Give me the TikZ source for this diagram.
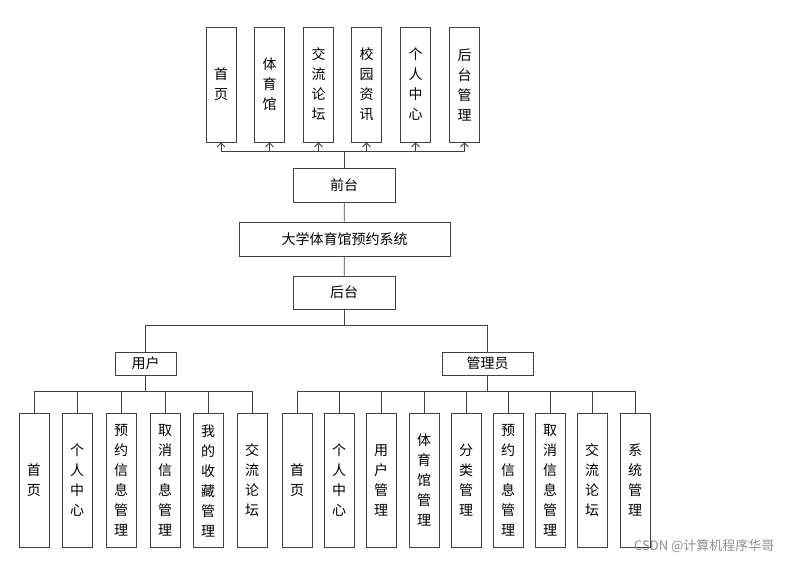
\documentclass[tikz,border=0pt]{standalone}
\usepackage{fontspec}
\setmainfont{Noto Sans CJK SC}
\usetikzlibrary{arrows.meta}
\begin{document}
\begin{tikzpicture}[x=1pt,y=-1pt,font=\fontsize{14}{20}\selectfont]
	\tikzstyle{hbox} = [draw=black!75, thick, inner sep=0pt]
	\tikzstyle{vbox} = [draw=black!75, thick, inner sep=0pt, align=center, text width=30pt, minimum height=134pt]
	\tikzstyle{link} = [draw=black!75, thick]
	\useasboundingbox (0,0) rectangle (792,566);

	% top part
	\node [hbox, minimum width=102pt, minimum height=34pt] (front) at (344,185) {前台};
	\node [hbox, minimum width=211pt, minimum height=34pt] (sys) at (344.5,239) {大学体育馆预约系统};
	\node [hbox, minimum width=102pt, minimum height=33pt] (back) at (344,292.5) {后台};
	\draw [link] (front) -- (sys);
	\draw [link] (sys) -- (back);

	\node [vbox, minimum height=115pt] (f1) at (221,84.5) {首\\页};
	\node [vbox, minimum height=115pt] (f2) at (269.5,84.5) {体\\育\\馆};
	\node [vbox, minimum height=115pt] (f3) at (318.5,84.5) {交\\流\\论\\坛};
	\node [vbox, minimum height=115pt] (f4) at (366.5,84.5) {校\\园\\资\\讯};
	\node [vbox, minimum height=115pt] (f5) at (415.5,84.5) {个\\人\\中\\心};
	\node [vbox, minimum height=115pt] (f6) at (464.5,84.5) {后\\台\\管\\理};
	\coordinate (fj) at (344,151);
	\draw [link] (front) -- (fj);
	\foreach \n in {f1,f2,f3,f4,f5,f6}
		\draw [link, -{Straight Barb[length=4pt,width=8pt]}] (fj) -| (\n.south);

	% roles
	\node [hbox, minimum width=61pt, minimum height=23pt] (user) at (145.5,363.5) {用户};
	\node [hbox, minimum width=91pt, minimum height=23pt] (admin) at (487.5,363.5) {管理员};
	\coordinate (bj) at (344,325);
	\draw [link] (back) -- (bj);
	\draw [link] (bj) -| (user);
	\draw [link] (bj) -| (admin);

	% user modules
	\node [vbox] (u1) at (34,480.5) {首\\页};
	\node [vbox] (u2) at (77,480.5) {个\\人\\中\\心};
	\node [vbox] (u3) at (121,480.5) {预\\约\\信\\息\\管\\理};
	\node [vbox] (u4) at (165,480.5) {取\\消\\信\\息\\管\\理};
	\node [vbox] (u5) at (208,480.5) {我\\的\\收\\藏\\管\\理};
	\node [vbox] (u6) at (252,480.5) {交\\流\\论\\坛};
	\coordinate (uj) at (145.5,391);
	\draw [link] (user) -- (uj);
	\foreach \n in {u1,u2,u3,u4,u5,u6}
		\draw [link] (uj) -| (\n.north);

	% admin modules
	\node [vbox] (a1) at (297,480) {首\\页};
	\node [vbox] (a2) at (339,480) {个\\人\\中\\心};
	\node [vbox] (a3) at (381,480) {用\\户\\管\\理};
	\node [vbox] (a4) at (424,480) {体\\育\\馆\\管\\理};
	\node [vbox] (a5) at (466,480) {分\\类\\管\\理};
	\node [vbox] (a6) at (508,480) {预\\约\\信\\息\\管\\理};
	\node [vbox] (a7) at (550,480) {取\\消\\信\\息\\管\\理};
	\node [vbox] (a8) at (592,480) {交\\流\\论\\坛};
	\node [vbox] (a9) at (635,480) {系\\统\\管\\理};
	\coordinate (aj) at (487.5,391);
	\draw [link] (admin) -- (aj);
	\foreach \n in {a1,a2,a3,a4,a5,a6,a7,a8,a9}
		\draw [link] (aj) -| (\n.north);

	\node [text=black!45, anchor=east, font=\fontsize{13}{15}\selectfont] (mark) at (778,546) {CSDN @计算机程序华哥};
\end{tikzpicture}
\end{document}
